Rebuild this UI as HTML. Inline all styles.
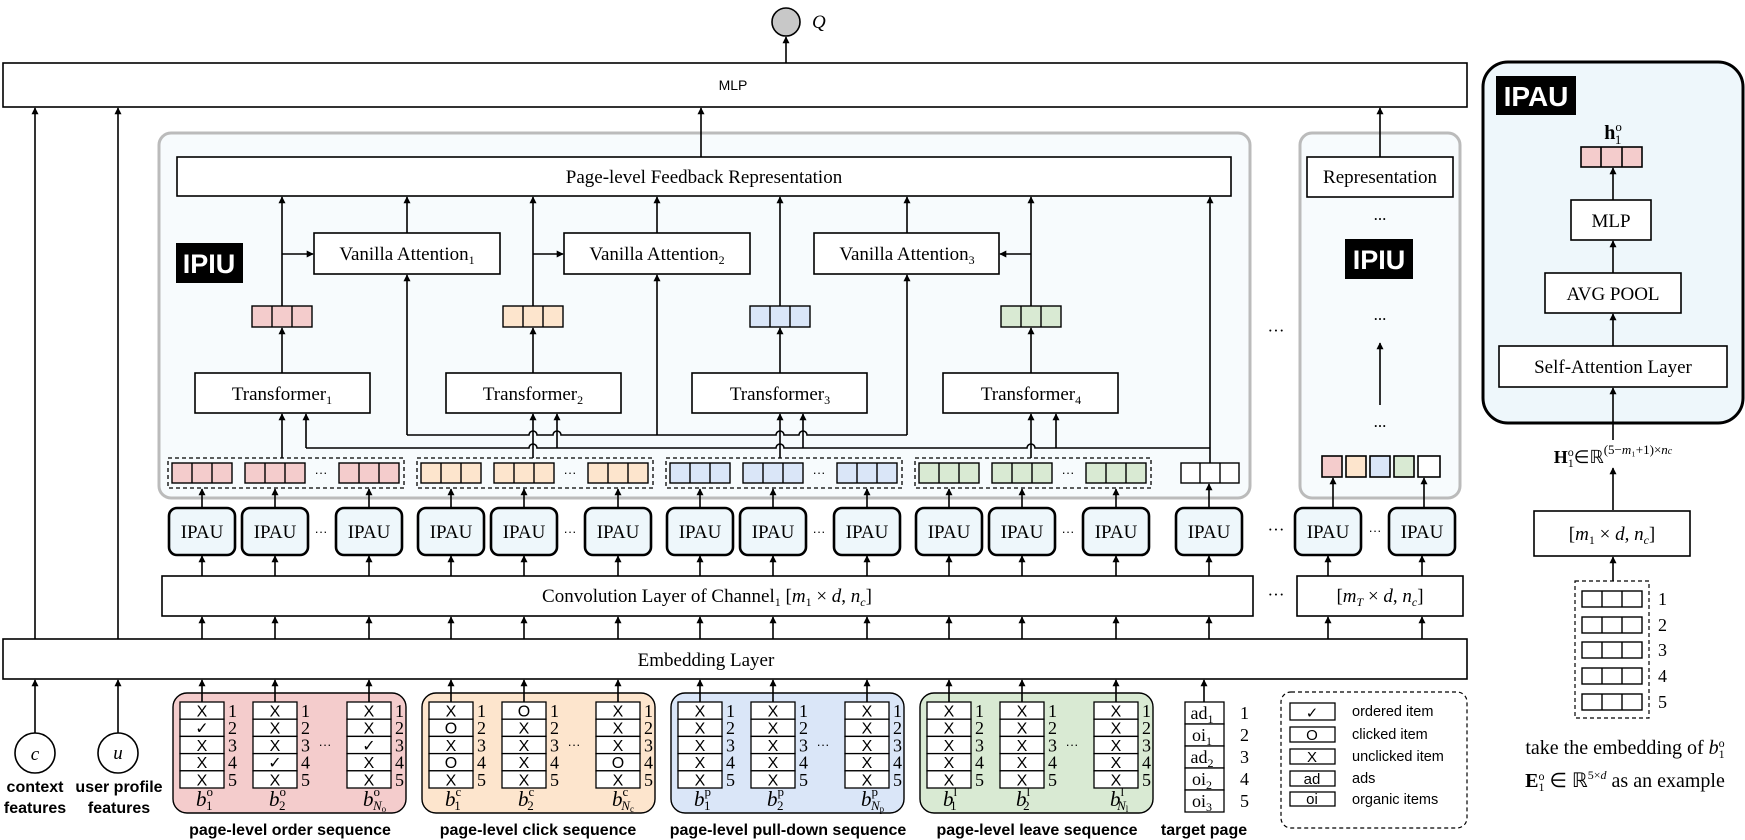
<!DOCTYPE html>
<html><head><meta charset="utf-8"><style>html,body{margin:0;padding:0;background:#fff}svg{display:block}</style></head><body>
<svg width="1745" height="840" viewBox="0 0 1745 840" xmlns="http://www.w3.org/2000/svg" font-family="Liberation Serif, serif">
<defs>
<marker id="a" viewBox="0 0 10 10" refX="9" refY="5" markerWidth="7" markerHeight="9" orient="auto" markerUnits="userSpaceOnUse"><path d="M0,0 L10,5 L0,10 z" fill="#000"/></marker>
</defs>
<g stroke="#000" stroke-width="1.6" fill="none">
<circle cx="786" cy="22" r="14" fill="#c8c8c8"/>
<line x1="786" y1="63" x2="786" y2="37" marker-end="url(#a)"/>
<rect x="3" y="63" width="1464" height="44" fill="#fff"/>
<rect x="159" y="133" width="1091" height="365" rx="12" fill="#f7fbfd" stroke="#bbb" stroke-width="3"/>
<rect x="1300" y="133" width="160" height="365" rx="12" fill="#f7fbfd" stroke="#bbb" stroke-width="3"/>
<rect x="177" y="157" width="1054" height="39" fill="#fff"/>
<rect x="1307" y="157" width="146" height="40" fill="#fff"/>
<rect x="314" y="233" width="186" height="41" fill="#fff"/>
<rect x="564" y="233" width="186" height="41" fill="#fff"/>
<rect x="814" y="233" width="185" height="41" fill="#fff"/>
<rect x="195" y="373" width="175" height="40" fill="#fff"/>
<rect x="446" y="373" width="175" height="40" fill="#fff"/>
<rect x="692" y="373" width="175" height="40" fill="#fff"/>
<rect x="943" y="373" width="175" height="40" fill="#fff"/>
<line x1="35" y1="639" x2="35" y2="108" marker-end="url(#a)"/>
<line x1="118" y1="639" x2="118" y2="108" marker-end="url(#a)"/>
<line x1="701" y1="157" x2="701" y2="108" marker-end="url(#a)"/>
<line x1="1380" y1="157" x2="1380" y2="108" marker-end="url(#a)"/>
<line x1="282" y1="373" x2="282" y2="328" marker-end="url(#a)"/>
<line x1="282" y1="306" x2="282" y2="197" marker-end="url(#a)"/>
<line x1="282" y1="254" x2="313" y2="254" marker-end="url(#a)"/>
<line x1="533" y1="373" x2="533" y2="328" marker-end="url(#a)"/>
<line x1="533" y1="306" x2="533" y2="197" marker-end="url(#a)"/>
<line x1="533" y1="254" x2="563" y2="254" marker-end="url(#a)"/>
<line x1="780" y1="373" x2="780" y2="328" marker-end="url(#a)"/>
<line x1="780" y1="306" x2="780" y2="197" marker-end="url(#a)"/>
<line x1="1031" y1="373" x2="1031" y2="328" marker-end="url(#a)"/>
<line x1="1031" y1="306" x2="1031" y2="197" marker-end="url(#a)"/>
<line x1="1031" y1="254" x2="1000" y2="254" marker-end="url(#a)"/>
<line x1="407" y1="233" x2="407" y2="197" marker-end="url(#a)"/>
<line x1="657" y1="233" x2="657" y2="197" marker-end="url(#a)"/>
<line x1="907" y1="233" x2="907" y2="197" marker-end="url(#a)"/>
<line x1="407" y1="435" x2="407" y2="275" marker-end="url(#a)"/>
<line x1="657" y1="435" x2="657" y2="275" marker-end="url(#a)"/>
<line x1="907" y1="435" x2="907" y2="275" marker-end="url(#a)"/>
<path d="M407,435 L529,435 A4,4 0 0 1 537,435 L553,435 A4,4 0 0 1 561,435 L776,435 A4,4 0 0 1 784,435 L799,435 A4,4 0 0 1 807,435 L907,435"/>
<path d="M306,448 L529,448 A4,4 0 0 1 537,448 L776,448 A4,4 0 0 1 784,448 L1027,448 A4,4 0 0 1 1035,448 L1210,448"/>
<line x1="282" y1="458" x2="282" y2="414" marker-end="url(#a)"/>
<line x1="306" y1="448" x2="306" y2="414" marker-end="url(#a)"/>
<line x1="533" y1="458" x2="533" y2="414" marker-end="url(#a)"/>
<line x1="557" y1="448" x2="557" y2="414" marker-end="url(#a)"/>
<line x1="780" y1="458" x2="780" y2="414" marker-end="url(#a)"/>
<line x1="803" y1="448" x2="803" y2="414" marker-end="url(#a)"/>
<line x1="1031" y1="458" x2="1031" y2="414" marker-end="url(#a)"/>
<line x1="1056" y1="448" x2="1056" y2="414" marker-end="url(#a)"/>
<line x1="1210" y1="463" x2="1210" y2="197" marker-end="url(#a)"/>
<line x1="1380" y1="405" x2="1380" y2="343" marker-end="url(#a)"/>
<line x1="1333" y1="508" x2="1333" y2="478" marker-end="url(#a)"/>
<line x1="1424" y1="508" x2="1424" y2="478" marker-end="url(#a)"/>
<rect x="1322" y="456" width="20" height="21" fill="#f4cccc"/>
<rect x="1346" y="456" width="20" height="21" fill="#fde5cd"/>
<rect x="1370" y="456" width="20" height="21" fill="#dae6f8"/>
<rect x="1394" y="456" width="20" height="21" fill="#d9ead3"/>
<rect x="1418" y="456" width="22" height="21" fill="#fff"/>
<g stroke-width="1.4">
<rect x="252" y="306" width="60" height="21" fill="#f4cccc"/><line x1="272" y1="306" x2="272" y2="327"/><line x1="292" y1="306" x2="292" y2="327"/>
<rect x="503" y="306" width="60" height="21" fill="#fde5cd"/><line x1="523" y1="306" x2="523" y2="327"/><line x1="543" y1="306" x2="543" y2="327"/>
<rect x="750" y="306" width="60" height="21" fill="#dae6f8"/><line x1="770" y1="306" x2="770" y2="327"/><line x1="790" y1="306" x2="790" y2="327"/>
<rect x="1001" y="306" width="60" height="21" fill="#d9ead3"/><line x1="1021" y1="306" x2="1021" y2="327"/><line x1="1041" y1="306" x2="1041" y2="327"/>
<rect x="1181" y="463" width="58" height="20" fill="#fff"/><line x1="1200" y1="463" x2="1200" y2="483"/><line x1="1220" y1="463" x2="1220" y2="483"/>
</g>
<rect x="162" y="576" width="1091" height="40" fill="#fff"/>
<rect x="1297" y="576" width="166" height="40" fill="#fff"/>
<rect x="3" y="639" width="1464" height="40" fill="#fff"/>
<line x1="1209" y1="576" x2="1209" y2="556" marker-end="url(#a)"/>
<line x1="1328" y1="576" x2="1328" y2="556" marker-end="url(#a)"/>
<line x1="1422" y1="576" x2="1422" y2="556" marker-end="url(#a)"/>
<line x1="1209" y1="508" x2="1209" y2="484" marker-end="url(#a)"/>
<line x1="1209" y1="639" x2="1209" y2="617" marker-end="url(#a)"/>
<line x1="1328" y1="639" x2="1328" y2="617" marker-end="url(#a)"/>
<line x1="1422" y1="639" x2="1422" y2="617" marker-end="url(#a)"/>
<line x1="1204" y1="702" x2="1204" y2="680" marker-end="url(#a)"/>
<line x1="35" y1="733" x2="35" y2="680" marker-end="url(#a)"/>
<line x1="118" y1="733" x2="118" y2="680" marker-end="url(#a)"/>
<circle cx="35" cy="753" r="20" fill="#fff"/>
<circle cx="118" cy="753" r="20" fill="#fff"/>
<g stroke-width="2.6" fill="#eef7fb">
<rect x="1176" y="508" width="66" height="47" rx="8"/>
<rect x="1295" y="508" width="66" height="47" rx="8"/>
<rect x="1389" y="508" width="66" height="47" rx="8"/>
</g>
<rect x="1483" y="62" width="260" height="361" rx="25" fill="#eef7fb" stroke-width="3"/>
<rect x="1581" y="147" width="61" height="20" fill="#f4cccc"/><line x1="1601" y1="147" x2="1601" y2="167"/><line x1="1622" y1="147" x2="1622" y2="167"/>
<rect x="1571" y="200" width="80" height="40" fill="#fff"/>
<rect x="1545" y="273" width="136" height="40" fill="#fff"/>
<rect x="1499" y="346" width="228" height="41" fill="#fff"/>
<line x1="1613" y1="200" x2="1613" y2="168" marker-end="url(#a)"/>
<line x1="1613" y1="273" x2="1613" y2="241" marker-end="url(#a)"/>
<line x1="1613" y1="346" x2="1613" y2="314" marker-end="url(#a)"/>
<line x1="1613" y1="440" x2="1613" y2="388" marker-end="url(#a)"/>
<line x1="1613" y1="510" x2="1613" y2="468" marker-end="url(#a)"/>
<rect x="1534" y="511" width="156" height="45" fill="#fff"/>
<line x1="1613" y1="581" x2="1613" y2="557" marker-end="url(#a)"/>
<rect x="1575" y="581" width="74" height="137" fill="#fff" stroke-dasharray="4,3" stroke-width="1.2"/>
<g stroke-width="1.4" fill="#fff">
<rect x="1582" y="591" width="60" height="16"/><rect x="1582" y="617" width="60" height="16"/><rect x="1582" y="642" width="60" height="16"/><rect x="1582" y="668" width="60" height="16"/><rect x="1582" y="694" width="60" height="16"/>
<path d="M1602,591v16M1622,591v16M1602,617v16M1622,617v16M1602,642v16M1622,642v16M1602,668v16M1622,668v16M1602,694v16M1622,694v16"/>
</g>
<rect x="1281" y="692" width="186" height="136" rx="10" fill="none" stroke-dasharray="4,3" stroke-width="1.2"/>
<g stroke-width="1.3" fill="#fff">
<rect x="1290" y="703" width="45" height="17"/><rect x="1290" y="727" width="45" height="15"/><rect x="1290" y="749" width="45" height="15"/><rect x="1290" y="771" width="45" height="15"/><rect x="1290" y="792" width="45" height="14"/>
</g>
<g stroke-width="1.3" fill="#fff">
<rect x="1185" y="702" width="39" height="22"/><rect x="1185" y="724" width="39" height="22"/><rect x="1185" y="746" width="39" height="22"/><rect x="1185" y="768" width="39" height="22"/><rect x="1185" y="790" width="39" height="22"/>
</g>
</g>
<g font-size="19" text-anchor="middle" fill="#000">
<text x="733" y="90" font-family="Liberation Sans, sans-serif" font-size="14">MLP</text>
<text x="704" y="183">Page-level Feedback Representation</text>
<text x="1380" y="183">Representation</text>
<text x="407" y="260">Vanilla Attention<tspan font-size="12" dy="4">1</tspan></text>
<text x="657" y="260">Vanilla Attention<tspan font-size="12" dy="4">2</tspan></text>
<text x="907" y="260">Vanilla Attention<tspan font-size="12" dy="4">3</tspan></text>
<text x="282" y="400">Transformer<tspan font-size="12" dy="4">1</tspan></text>
<text x="533" y="400">Transformer<tspan font-size="12" dy="4">2</tspan></text>
<text x="780" y="400">Transformer<tspan font-size="12" dy="4">3</tspan></text>
<text x="1031" y="400">Transformer<tspan font-size="12" dy="4">4</tspan></text>
<text x="707" y="602">Convolution Layer of Channel<tspan font-size="12" dy="4">1</tspan><tspan dy="-4"> [</tspan><tspan font-style="italic">m</tspan><tspan font-size="12" dy="4">1</tspan><tspan dy="-4"> × </tspan><tspan font-style="italic">d</tspan>, <tspan font-style="italic">n</tspan><tspan font-size="12" dy="4" font-style="italic">c</tspan><tspan dy="-4">]</tspan></text>
<text x="1380" y="602">[<tspan font-style="italic">m</tspan><tspan font-size="12" dy="4" font-style="italic">T</tspan><tspan dy="-4"> × </tspan><tspan font-style="italic">d</tspan>, <tspan font-style="italic">n</tspan><tspan font-size="12" dy="4" font-style="italic">c</tspan><tspan dy="-4">]</tspan></text>
<text x="706" y="666">Embedding Layer</text>
<text x="1276" y="600" font-size="17">···</text>
<text x="1276" y="535" font-size="17">···</text>
<text x="1276" y="336" font-size="17">···</text>
<text x="1380" y="220" font-size="17">...</text>
<text x="1380" y="320" font-size="17">...</text>
<text x="1380" y="427" font-size="17">...</text>
<text x="1611" y="227">MLP</text>
<text x="1613" y="300">AVG POOL</text>
<text x="1613" y="373">Self-Attention Layer</text>
<text x="1612" y="540">[<tspan font-style="italic">m</tspan><tspan font-size="12" dy="4">1</tspan><tspan dy="-4"> × </tspan><tspan font-style="italic">d</tspan>, <tspan font-style="italic">n</tspan><tspan font-size="12" dy="4" font-style="italic">c</tspan><tspan dy="-4">]</tspan></text>
<text x="1613" y="139" font-weight="bold" font-size="20">h<tspan font-size="13" font-weight="normal" dy="-8">o</tspan><tspan font-size="13" font-weight="normal" dx="-7" dy="13">1</tspan></text>
<text x="1613" y="463" font-size="18"><tspan font-weight="bold">H</tspan><tspan font-size="12" dy="-7">o</tspan><tspan font-size="12" dx="-6" dy="11">1</tspan><tspan dy="-4">∈ℝ</tspan><tspan font-size="13" dy="-9">(5−<tspan font-style="italic">m</tspan>₁+1)×<tspan font-style="italic">n</tspan><tspan font-style="italic" font-size="10">c</tspan></tspan></text>
<text x="1625" y="754" font-size="20">take the embedding of <tspan font-style="italic">b</tspan><tspan font-size="12" dy="-7">o</tspan><tspan font-size="12" dx="-6" dy="11">1</tspan></text>
<text x="1625" y="787" font-size="20"><tspan font-weight="bold">E</tspan><tspan font-size="12" dy="-7">o</tspan><tspan font-size="12" dx="-6" dy="11">1</tspan><tspan dy="-4">  ∈ ℝ</tspan><tspan font-size="12" dy="-8">5×<tspan font-style="italic">d</tspan></tspan><tspan dy="8"> as an example</tspan></text>
<text x="35" y="760" font-style="italic" font-size="19">c</text>
<text x="118" y="759" font-style="italic" font-size="19">u</text>
<text x="786" y="28" font-style="italic" font-size="19" text-anchor="start" dx="26">Q</text>
</g>
<g font-family="Liberation Sans, sans-serif" font-weight="bold" fill="#fff" text-anchor="middle">
<rect x="176" y="243" width="67" height="40" fill="#000"/><text x="209" y="273" font-size="27">IPIU</text>
<rect x="1345" y="239" width="68" height="40" fill="#000"/><text x="1379" y="269" font-size="27">IPIU</text>
<rect x="1496" y="76" width="80" height="39" fill="#000"/><text x="1536" y="106" font-size="28">IPAU</text>
</g>
<g font-family="Liberation Sans, sans-serif" font-weight="bold" font-size="16" text-anchor="middle" fill="#000">
<text x="35" y="792">context</text><text x="35" y="813">features</text>
<text x="119" y="792">user profile</text><text x="119" y="813">features</text>
<text x="290" y="835">page-level order sequence</text>
<text x="538" y="835">page-level click sequence</text>
<text x="788" y="835">page-level pull-down sequence</text>
<text x="1037" y="835">page-level leave sequence</text>
<text x="1204" y="835">target page</text>
</g>
<g font-family="Liberation Sans, sans-serif" font-size="14.5" fill="#000">
<text x="1352" y="716">ordered item</text><text x="1352" y="739">clicked item</text><text x="1352" y="761">unclicked item</text><text x="1352" y="783">ads</text><text x="1352" y="804">organic items</text>
<g text-anchor="middle" font-size="15"><text x="1312" y="718">✓</text><text x="1312" y="740">O</text><text x="1312" y="762">X</text><text x="1312" y="784">ad</text><text x="1312" y="804">oi</text></g>
</g>
<g font-size="18" fill="#000">
<text x="1240" y="719">1</text><text x="1240" y="741">2</text><text x="1240" y="763">3</text><text x="1240" y="785">4</text><text x="1240" y="807">5</text>
<g text-anchor="middle"><text x="1202" y="719">ad<tspan font-size="12" dy="4">1</tspan></text><text x="1202" y="741">oi<tspan font-size="12" dy="4">1</tspan></text><text x="1202" y="763">ad<tspan font-size="12" dy="4">2</tspan></text><text x="1202" y="785">oi<tspan font-size="12" dy="4">2</tspan></text><text x="1202" y="807">oi<tspan font-size="12" dy="4">3</tspan></text></g>
<text x="1658" y="605">1</text><text x="1658" y="631">2</text><text x="1658" y="656">3</text><text x="1658" y="682">4</text><text x="1658" y="708">5</text>
</g>
<g id="groups"></g>
<script>
(function(){
var NS="http://www.w3.org/2000/svg",g=document.getElementById("groups");
function el(t,a,txt){var e=document.createElementNS(NS,t);for(var k in a)e.setAttribute(k,a[k]);if(txt!=null)e.textContent=txt;g.appendChild(e);return e;}
var groups=[
 {s:173,c:"#f4cccc",sup:"o",subsub:"o",items:[["X","✓","X","X","X"],["X","X","X","✓","X"],["X","X","✓","X","X"]]},
 {s:422,c:"#fde5cd",sup:"c",subsub:"c",items:[["X","O","X","O","X"],["O","X","X","X","X"],["X","X","X","O","X"]]},
 {s:671,c:"#dae6f8",sup:"p",subsub:"p",items:[["X","X","X","X","X"],["X","X","X","X","X"],["X","X","X","X","X"]]},
 {s:920,c:"#d9ead3",sup:"l",subsub:"l",items:[["X","X","X","X","X"],["X","X","X","X","X"],["X","X","X","X","X"]]}];
var off=[29,102,196];
groups.forEach(function(G){
 var s=G.s;
 el("rect",{x:s,y:693,width:233,height:120,rx:14,fill:G.c,stroke:"#000","stroke-width":1.4});
 el("rect",{x:s-5,y:458,width:236,height:30,fill:"none",stroke:"#000","stroke-width":1.3,"stroke-dasharray":"4,3"});
 el("text",{x:s+148,y:477,"font-size":13,"text-anchor":"middle","font-family":"Liberation Sans, sans-serif"},"···");
 el("text",{x:s+148,y:536,"font-size":13,"text-anchor":"middle","font-family":"Liberation Sans, sans-serif"},"···");
 el("text",{x:s+152,y:749,"font-size":13,"text-anchor":"middle","font-family":"Liberation Sans, sans-serif"},"···");
 off.forEach(function(o,i){
  var x=s+o;
  el("rect",{x:x-30,y:463,width:60,height:20,fill:G.c,stroke:"#000","stroke-width":1.4});
  el("path",{d:"M"+(x-10)+",463v20M"+(x+10)+",463v20",stroke:"#000","stroke-width":1.4});
  el("rect",{x:x-33,y:508,width:66,height:47,rx:8,fill:"#eef7fb",stroke:"#000","stroke-width":2.6});
  el("text",{x:x,y:538,"font-size":19,"text-anchor":"middle"},"IPAU");
  [[508,489],[576,556],[639,617],[702,680]].forEach(function(p){
   el("line",{x1:x,y1:p[0],x2:x,y2:p[1],stroke:"#000","stroke-width":1.6,"marker-end":"url(#a)"});
  });
  for(var r=0;r<5;r++){
   var y=702+r*17.2;
   el("rect",{x:x-22,y:y,width:44,height:17.2,fill:"#fff",stroke:"#000","stroke-width":1.3});
   var t=G.items[i][r];
   el("text",{x:x,y:y+14.5,"font-size":16,"text-anchor":"middle","font-family":"Liberation Sans, sans-serif"},t);
   el("text",{x:x+26,y:y+15,"font-size":18},String(r+1));
  }
  var b=el("text",{x:x-6,y:806,"font-size":21,"font-style":"italic"},"b");
  var t1=document.createElementNS(NS,"tspan");t1.setAttribute("font-size","13");t1.setAttribute("font-style","normal");t1.setAttribute("dy","-10");t1.textContent=G.sup;b.appendChild(t1);
  var t2=document.createElementNS(NS,"tspan");t2.setAttribute("font-size","13");t2.setAttribute("dx","-7");t2.setAttribute("dy","14");
  if(i<2){t2.setAttribute("font-style","normal");t2.textContent=String(i+1);}else{t2.textContent="N";var t3=document.createElementNS(NS,"tspan");t3.setAttribute("font-size","9");t3.setAttribute("font-style","normal");t3.setAttribute("dy","2");t3.textContent=G.subsub;t2.appendChild(t3);}
  b.appendChild(t2);
 });
});
el("text",{x:1209,y:538,"font-size":19,"text-anchor":"middle"},"IPAU");
el("text",{x:1328,y:538,"font-size":19,"text-anchor":"middle"},"IPAU");
el("text",{x:1422,y:538,"font-size":19,"text-anchor":"middle"},"IPAU");
el("text",{x:1375,y:535,"font-size":13,"text-anchor":"middle","font-family":"Liberation Sans, sans-serif"},"···");
})();
</script>
</svg>
</body></html>
